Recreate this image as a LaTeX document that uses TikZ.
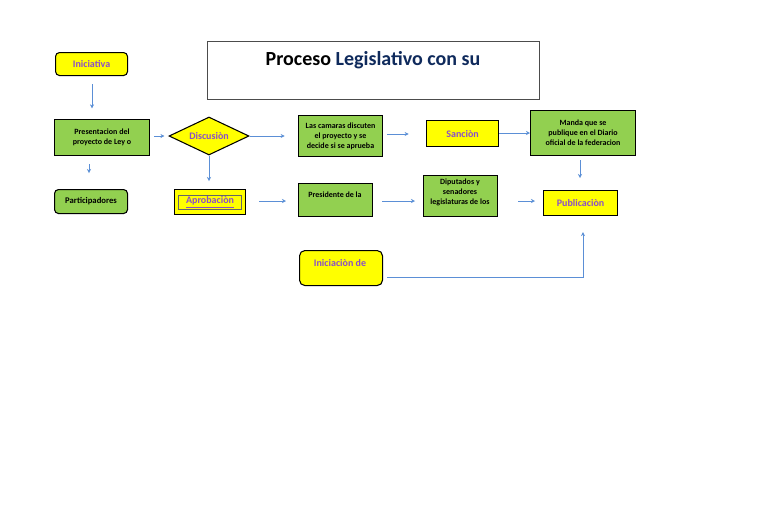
\documentclass[tikz,border=0pt]{standalone}
\usepackage{fontspec}
\setmainfont{Carlito}
\usetikzlibrary{shapes.geometric,arrows.meta}
\definecolor{gr}{HTML}{92D050}
\definecolor{yl}{HTML}{FFFF00}
\definecolor{pu}{HTML}{8A4FC8}
\definecolor{ar}{HTML}{5B8FD6}
\definecolor{nv}{HTML}{0F2A5C}
\begin{document}
\begin{tikzpicture}[x=0.75pt,y=-0.75pt,
 gbox/.style={draw=black,thick,fill=gr,font=\bfseries\fontsize{6}{7.5}\selectfont,align=center,inner sep=0pt,anchor=north west},
 ybox/.style={draw=black,thick,fill=yl,text=pu,font=\bfseries\fontsize{7.5}{9}\selectfont,inner sep=0pt,anchor=north west},
 con/.style={draw=ar,-{Stealth[length=3pt,width=3pt]},shorten >=3pt,shorten <=3pt}]
\useasboundingbox (0,0) rectangle (768,512);
\fill[white] (0,0) rectangle (768,512);
\node[draw=black!70,thick,anchor=north west,minimum width=332*0.75pt,minimum height=58*0.75pt,inner sep=0pt] (title) at (207,41) {};
\node[font=\bfseries\fontsize{15}{17}\selectfont] (tt) at (373,60) {Proceso \textcolor{nv}{Legislativo con su}};
\node[ybox,rounded corners=3pt,minimum width=72*0.75pt,minimum height=23*0.75pt] (ini) at (55,52) {Iniciativa};
\node[gbox,minimum width=95*0.75pt,minimum height=36*0.75pt] (pre) at (54,119) {Presentacion del\\proyecto de Ley o};
\node[diamond,draw=black,thick,fill=yl,text=pu,font=\bfseries\fontsize{7.5}{9}\selectfont,aspect=2.1,inner sep=1pt,minimum width=80*0.75pt,minimum height=38*0.75pt] (dis) at (209,136) {Discusiòn};
\node[gbox,minimum width=84*0.75pt,minimum height=41*0.75pt] (cam) at (298,115) {Las camaras discuten\\el proyecto y se\\decide si se aprueba};
\node[ybox,minimum width=72*0.75pt,minimum height=26*0.75pt] (san) at (426,120) {Sanciòn};
\node[gbox,minimum width=105*0.75pt,minimum height=45*0.75pt] (man) at (530,110) {Manda que se\\publique en el Diario\\oficial de la federacion};
\node[gbox,rounded corners=3pt,minimum width=73*0.75pt,minimum height=24*0.75pt,font=\bfseries\fontsize{6.5}{8}\selectfont] (par) at (54,189) {Participadores};
\node[ybox,minimum width=71*0.75pt,minimum height=25*0.75pt] (apr) at (174,189) {};
\node[draw=black!60,thin,text=pu,font=\bfseries\fontsize{7.5}{9}\selectfont,minimum width=63*0.75pt,minimum height=14*0.75pt,inner sep=0pt] (aprt) at (apr.center) {\underline{Aprobaciòn}};
\node[gbox,minimum width=74*0.75pt,minimum height=33*0.75pt] (pres) at (298,183) {};
\node[font=\bfseries\fontsize{6}{7.5}\selectfont] (prest) at (335,195) {Presidente de la};
\node[gbox,minimum width=74*0.75pt,minimum height=41*0.75pt] (dip) at (423,175) {};
\node[font=\bfseries\fontsize{6}{7.5}\selectfont,align=center] (dipt) at (460,192) {Diputados y\\senadores\\legislaturas de los};
\node[ybox,minimum width=74*0.75pt,minimum height=25*0.75pt] (pub) at (543,190) {Publicaciòn};
\node[ybox,rounded corners=4pt,minimum width=83*0.75pt,minimum height=35*0.75pt] (inc) at (299,250) {};
\node[text=pu,font=\bfseries\fontsize{7.5}{9}\selectfont] (inct) at (340,263) {Iniciaciòn de};
\draw[con,shorten <=6pt,shorten >=8pt] (ini.south -| 92,0) -- (pre.north -| 92,0);
\draw[con,shorten <=6pt,shorten >=12pt] (pre.south -| 89,0) -- (par.north -| 89,0);
\draw[con] (pre.east |- 0,136) -- (dis.west);
\draw[con,shorten <=0pt,shorten >=10pt] (dis.east) -- (cam.west |- dis.east);
\draw[con,shorten <=0pt,shorten >=6pt] (dis.south) -- (apr.north -| dis.south);
\draw[con,shorten >=13pt] (cam.east |- 0,134) -- (san.west |- 0,134);
\draw[con,shorten <=0pt,shorten >=0pt] (san.east |- 0,133) -- (man.west |- 0,133);
\draw[con,shorten >=9pt] (man.south -| 580,0) -- (pub.north -| 580,0);
\draw[con,shorten <=10pt,shorten >=9pt] (apr.east |- 0,201) -- (pres.west |- 0,201);
\draw[con,shorten <=7pt,shorten >=6pt] (pres.east |- 0,201) -- (dip.west |- 0,201);
\draw[con,shorten <=15pt,shorten >=6pt] (dip.east |- 0,201) -- (pub.west |- 0,201);
\draw[con,shorten >=12pt] (inc.east |- 0,277) -- (583,277) -- (pub.south -| 583,0);
\end{tikzpicture}
\end{document}
